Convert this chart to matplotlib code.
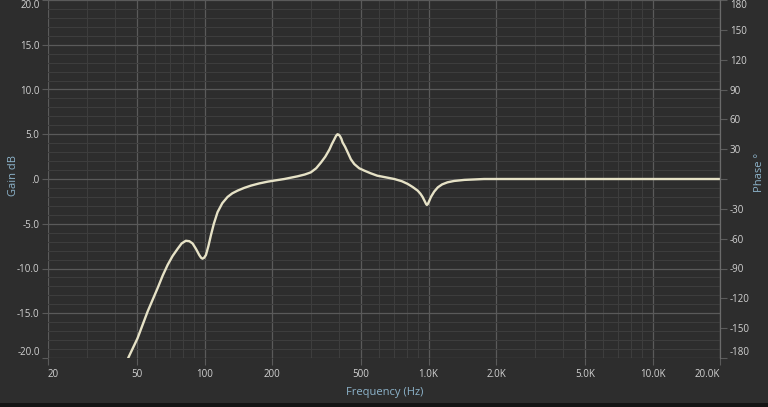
import numpy as np
import matplotlib
matplotlib.use('Agg')
import matplotlib.pyplot as plt
from matplotlib.ticker import NullFormatter
from matplotlib.patches import Rectangle

# response
freq_hz = [45.6, 50.2, 55.7, 61.7, 65, 68.4, 72, 75.8, 79, 82.5, 85.5, 88.4,
           91.5, 94.7, 96.5, 97.9, 99.5, 101.4, 104, 106.7, 110, 114.3, 120,
           126.7, 133, 140.4, 150, 161, 175, 191, 208, 227, 243, 260, 280, 298,
           315, 331, 346, 361, 370, 379, 386, 392, 397, 402, 408, 413, 424, 435,
           450, 466, 490, 517, 550, 590, 640, 703, 760, 807, 850, 894, 920, 940,
           960, 975, 983, 992, 1005, 1025, 1060, 1100, 1150, 1215, 1300, 1445,
           1770, 2500, 5000, 10000, 20000]
gain_db = [-20.0, -17.8, -14.8, -12.2, -10.8, -9.6, -8.6, -7.8, -7.2, -6.9, -6.95, -7.2,
           -7.8, -8.5, -8.8, -8.9, -8.8, -8.5, -7.5, -6.3, -5.0, -3.7, -2.7,
           -2.0, -1.6, -1.3, -1.0, -0.74, -0.5, -0.3, -0.15, 0.0, 0.15, 0.3, 0.5, 0.74,
           1.2, 1.85, 2.5, 3.3, 3.9, 4.4, 4.8, 5.0, 4.95, 4.8, 4.5, 4.1, 3.6, 3.0,
           2.2, 1.67, 1.2, 0.93, 0.65, 0.37, 0.2, 0.0, -0.25, -0.55, -0.9, -1.3, -1.65, -2.0,
           -2.45, -2.8, -2.9, -2.8, -2.5, -2.0, -1.4, -0.93, -0.6, -0.37, -0.22, -0.1,
           0.0, 0.0, 0.0, 0.0, 0.0]

x_ticks = [20, 50, 100, 200, 500, 1000, 2000, 5000, 10000, 20000]
x_labels = ['20', '50', '100', '200', '500', '1.0K', '2.0K', '5.0K', '10.0K', '20.0K']
x_minor = [30, 40, 60, 70, 80, 90, 300, 400, 600, 700, 800, 900,
           3000, 4000, 6000, 7000, 8000, 9000]
gain_ticks = [-20, -15, -10, -5, 0, 5, 10, 15, 20]
gain_labels = ['-20.0', '-15.0', '-10.0', '-5.0', '.0', '5.0', '10.0', '15.0', '20.0']
phase_ticks = [-180, -150, -120, -90, -60, -30, 0, 30, 60, 90, 120, 150, 180]
phase_labels = ['-180', '-150', '-120', '-90', '-60', '-30', '', '30', '60', '90', '120', '150', '180']

bg = '#2d2d2d'
major_grid = '#5a5a5a'
minor_grid = '#3d3d3d'
text_col = '#d2d2d2'
label_col = '#8db4cb'
curve_col = '#e6e2c6'

plt.rcParams['font.family'] = ['Open Sans', 'DejaVu Sans']

fig = plt.figure(figsize=(7.68, 4.07), dpi=100, facecolor=bg)
W, H = 768, 407
ax = fig.add_axes([48 / W, (H - 358) / H, (720 - 48) / W, 358 / H])
ax.set_facecolor(bg)

ax.set_xscale('log')
ax.set_xlim(20, 20000)
ax.set_ylim(-20, 20)

ax.set_xticks(x_ticks)
ax.set_xticklabels(x_labels)
ax.set_xticks(x_minor, minor=True)
ax.xaxis.set_minor_formatter(NullFormatter())
ax.set_yticks(gain_ticks)
ax.set_yticklabels(gain_labels)
ax.set_yticks(np.arange(-20, 21, 1), minor=True)

ax.grid(which='major', color=major_grid, linewidth=0.9)
ax.grid(which='minor', color=minor_grid, linewidth=0.8)
ax.set_axisbelow(True)

ax.tick_params(axis='x', which='major', colors=major_grid, labelcolor=text_col,
               labelsize=7, length=5, width=0.8, pad=3)
ax.tick_params(axis='y', which='major', colors=major_grid, labelcolor=text_col,
               labelsize=7, length=4, width=0.8, pad=2)
ax.tick_params(which='minor', length=0)

lbls = ax.get_xticklabels()
lbls[0].set_ha('left')
lbls[-1].set_ha('right')
ylbls = ax.get_yticklabels()
ylbls[0].set_va('bottom')
ylbls[-1].set_va('top')

for s in ['top', 'left', 'bottom', 'right']:
    ax.spines[s].set_visible(False)

ax.plot(freq_hz, gain_db, color=curve_col, linewidth=1.7,
        solid_joinstyle='round', solid_capstyle='round', antialiased=True, zorder=5)

# phase axis on the right, no data drawn on it
ax2 = ax.twinx()
ax2.set_ylim(-180, 180)
ax2.set_yticks(phase_ticks)
ax2.set_yticklabels(phase_labels)
ax2.tick_params(axis='y', colors=major_grid, labelcolor=text_col,
                labelsize=7, length=5, width=0.8, pad=2)
p_lbls = ax2.get_yticklabels()
p_lbls[0].set_va('bottom')
p_lbls[-1].set_va('top')
for s in ['top', 'left', 'bottom']:
    ax2.spines[s].set_visible(False)
ax2.spines['right'].set_color('#6a6a6a')
ax2.spines['right'].set_linewidth(0.9)

fig.text(14 / W, 1 - 176 / H, 'Gain dB', rotation=90, color=label_col,
         fontsize=8, ha='center', va='center')
fig.text(760 / W, 1 - 172 / H, 'Phase °', rotation=90, color=label_col,
         fontsize=8, ha='center', va='center')
fig.text(385 / W, 1 - 393 / H, 'Frequency (Hz)', color=label_col,
         fontsize=8, ha='center', va='center')

# dark window edge at the bottom
fig.patches.append(Rectangle((0, 0), 1, 4 / H, transform=fig.transFigure,
                             facecolor='#141414', edgecolor='none'))

fig.savefig('out.png', dpi=100, facecolor=bg)
